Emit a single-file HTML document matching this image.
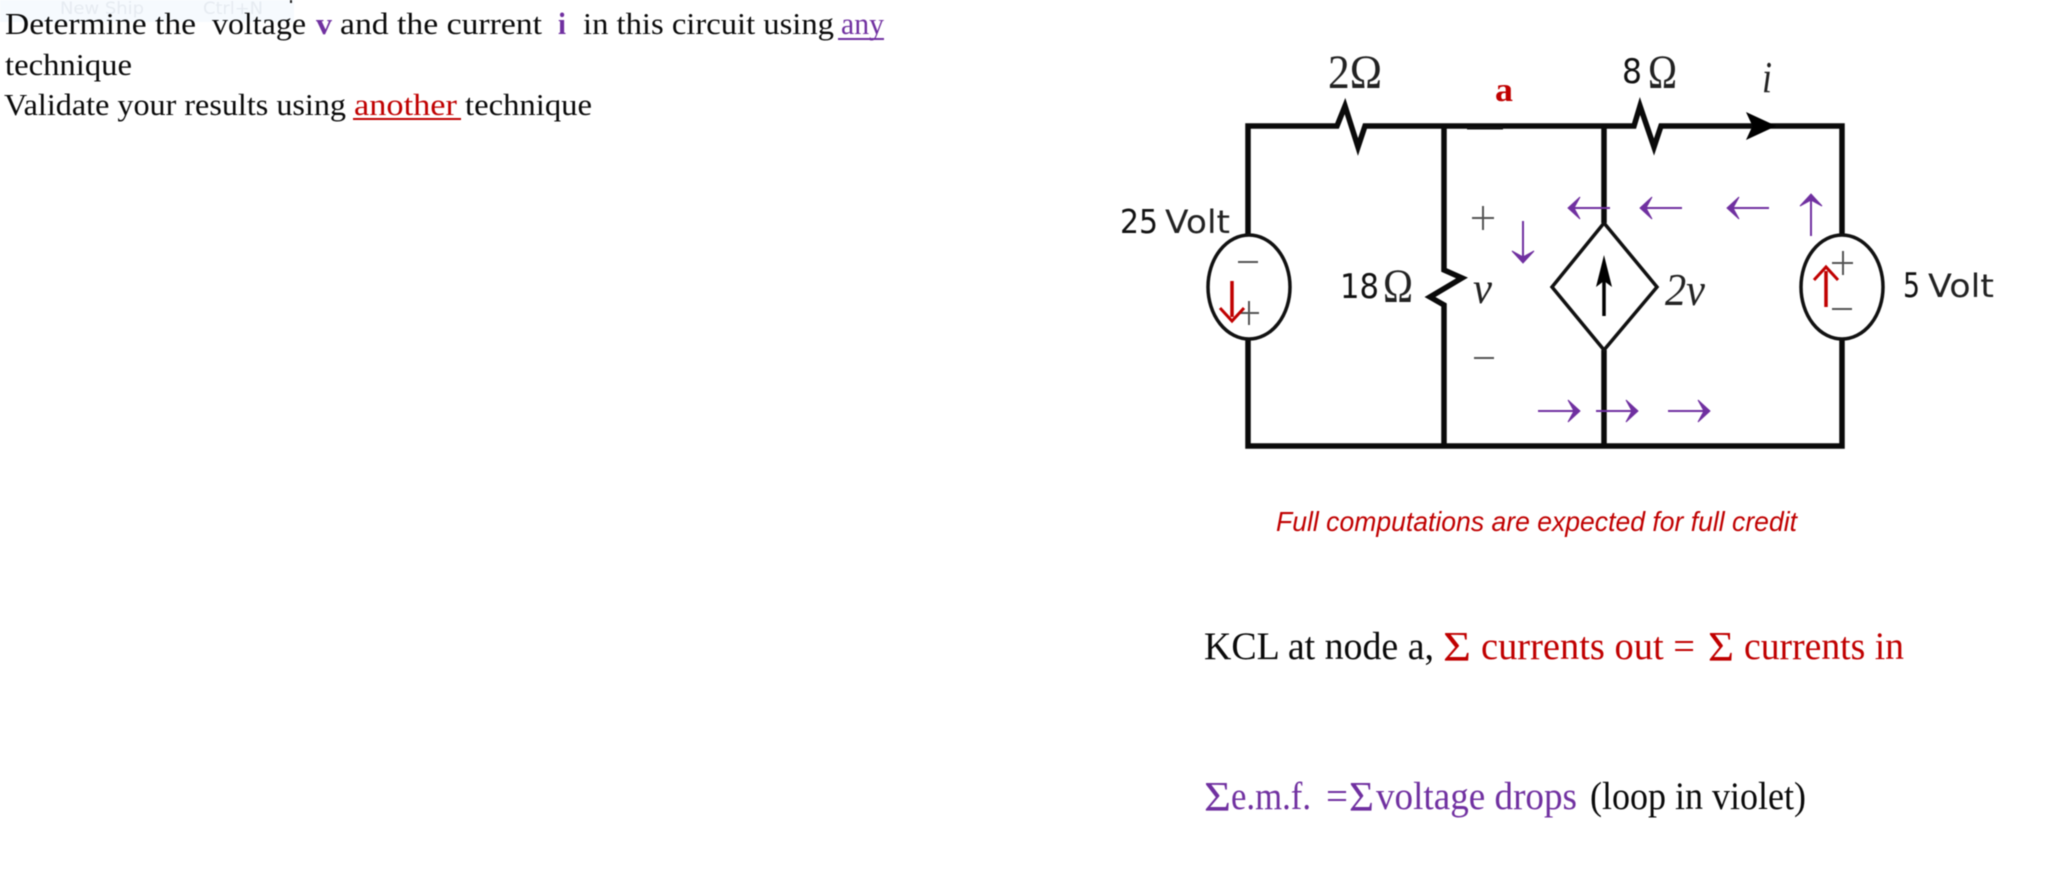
<!DOCTYPE html>
<html><head><meta charset="utf-8"><style>
html,body{margin:0;padding:0;background:#fff;width:2046px;height:875px;overflow:hidden}
svg{display:block;filter:blur(.5px)}
.s{font-family:"Liberation Serif",serif}
.d{font-family:"DejaVu Sans",sans-serif}
.t{font-size:31px;fill:#0a0a0a}
.b{font-size:39px}
.w{fill:none;stroke:#0a0a0a;stroke-width:5.5;stroke-linejoin:miter}
.n{fill:none;stroke:#111;stroke-width:3.5}
.g{stroke:#555;stroke-width:2;fill:none}
</style></head><body>
<svg width="2046" height="875" viewBox="0 0 2046 875" xmlns="http://www.w3.org/2000/svg">
<defs>
<g id="pa"><path d="M-42,0H-5" stroke="#7030a0" stroke-width="2" fill="none"/><path d="M-12,-11L0,0L-12,11L-6,0Z" fill="#7030a0" stroke="#7030a0" stroke-width="1"/></g>
<g id="ra"><path d="M-40,0H-4" stroke="#c00000" stroke-width="3.5" fill="none"/><path d="M-13,-12L0,0L-13,12" fill="none" stroke="#c00000" stroke-width="3"/></g>
</defs>

<!-- ghost top -->
<rect x="0" y="0" width="294" height="22" fill="#f6fafe"/>
<text x="60" y="14" class="d" font-size="17" fill="#e6ebf1" textLength="84" lengthAdjust="spacingAndGlyphs">New Ship</text>
<text x="203" y="14" class="d" font-size="17" fill="#e6ebf1" textLength="60" lengthAdjust="spacingAndGlyphs">Ctrl+N</text>
<rect x="290" y="0" width="2" height="3" fill="#222"/>

<!-- heading text -->
<g class="s t">
<text x="5" y="34" textLength="191" lengthAdjust="spacingAndGlyphs">Determine the</text>
<text x="212" y="34" textLength="94" lengthAdjust="spacingAndGlyphs">voltage</text>
<text x="316" y="34" textLength="16" lengthAdjust="spacingAndGlyphs" font-weight="bold" style="fill:#7030a0">v</text>
<text x="340" y="34" textLength="202" lengthAdjust="spacingAndGlyphs">and the current</text>
<text x="558" y="34" textLength="8" lengthAdjust="spacingAndGlyphs" font-weight="bold" style="fill:#7030a0">i</text>
<text x="583" y="34" textLength="251" lengthAdjust="spacingAndGlyphs">in this circuit using</text>
<text x="841" y="34" textLength="43" lengthAdjust="spacingAndGlyphs" style="fill:#7030a0">any</text>
<text x="5" y="75" textLength="127" lengthAdjust="spacingAndGlyphs">technique</text>
<text x="4" y="115" textLength="342" lengthAdjust="spacingAndGlyphs">Validate your results using</text>
<text x="354" y="115" textLength="103" lengthAdjust="spacingAndGlyphs" style="fill:#c00000">another</text>
<text x="465" y="115" textLength="127" lengthAdjust="spacingAndGlyphs">technique</text>
</g>
<rect x="838" y="38" width="46" height="2" fill="#7030a0"/>
<rect x="353" y="118" width="108" height="2" fill="#c00000"/>

<!-- wires -->
<path class="w" d="M1248,235V126H1337L1345,106L1358,147L1365,126H1634L1640,106L1654,147L1661,126H1842V235"/>
<path class="w" d="M1248,339V446H1842V339"/>
<path class="w" d="M1444,126V270L1462,278L1430,297L1444,305V446"/>
<path class="w" d="M1604,126V223M1604,350V446"/>
<path d="M1467,128H1503" stroke="#111" stroke-width="3"/>
<path d="M1775,126L1747,113L1753,126L1747,139Z" fill="#000" stroke="#000" stroke-width="1"/>

<!-- sources -->
<ellipse class="n" cx="1249" cy="287" rx="41" ry="52" fill="#fff"/>
<ellipse class="n" cx="1842" cy="287" rx="41" ry="52" fill="#fff"/>
<path class="n" d="M1604,223L1657,287L1604,350L1552,287Z"/>
<path d="M1604,316V270" stroke="#000" stroke-width="3.5"/>
<path d="M1604,255L1612,287L1604,281L1596,287Z" fill="#000"/>

<!-- polarity -->
<path class="g" d="M1238,262H1258M1239,313H1259M1249,301V325M1472,218H1494M1483,206V230M1474,358H1494M1832,263H1853M1843,251V275M1832,309H1852"/>

<!-- purple arrows -->
<use href="#pa" transform="translate(1568,208) rotate(180)"/>
<use href="#pa" transform="translate(1640,208) rotate(180)"/>
<use href="#pa" transform="translate(1727,208) rotate(180)"/>
<use href="#pa" transform="translate(1811,194) rotate(-90)"/>
<use href="#pa" transform="translate(1523,263) rotate(90)"/>
<use href="#pa" transform="translate(1580,411)"/>
<use href="#pa" transform="translate(1638,411)"/>
<use href="#pa" transform="translate(1710,411)"/>
<!-- red arrows -->
<use href="#ra" transform="translate(1232,321) rotate(90)"/>
<use href="#ra" transform="translate(1826,267) rotate(-90)"/>

<!-- labels -->
<text class="s" x="1328" y="88" font-size="48" fill="#222" textLength="54" lengthAdjust="spacingAndGlyphs">2Ω</text>
<text class="s" x="1495" y="101" font-size="34" font-weight="bold" fill="#c00000" textLength="18" lengthAdjust="spacingAndGlyphs">a</text>
<text class="d" x="1622" y="83" font-size="34" fill="#111" textLength="20" lengthAdjust="spacingAndGlyphs">8</text>
<text class="s" x="1648" y="88" font-size="48" fill="#222" textLength="29" lengthAdjust="spacingAndGlyphs">Ω</text>
<text class="s" x="1762" y="92" font-size="44" font-style="italic" fill="#222" textLength="10" lengthAdjust="spacingAndGlyphs">i</text>
<text class="d" x="1120" y="233" font-size="33" fill="#111" textLength="38" lengthAdjust="spacingAndGlyphs">25</text>
<text class="d" x="1165" y="233" font-size="32" fill="#222" textLength="65" lengthAdjust="spacingAndGlyphs">Volt</text>
<text class="d" x="1340" y="298" font-size="34" fill="#111" textLength="39" lengthAdjust="spacingAndGlyphs">18</text>
<text class="s" x="1383" y="302" font-size="48" fill="#222" textLength="30" lengthAdjust="spacingAndGlyphs">Ω</text>
<text class="s" x="1473" y="303" font-size="44" font-style="italic" fill="#222" textLength="19" lengthAdjust="spacingAndGlyphs">v</text>
<text class="s" x="1665" y="305" font-size="46" font-style="italic" fill="#222" textLength="40" lengthAdjust="spacingAndGlyphs">2v</text>
<text class="d" x="1903" y="297" font-size="34" fill="#111" textLength="17" lengthAdjust="spacingAndGlyphs">5</text>
<text class="d" x="1928" y="297" font-size="32" fill="#222" textLength="66" lengthAdjust="spacingAndGlyphs">Volt</text>

<!-- lower notes -->
<text x="1276" y="531" font-family="Liberation Sans,sans-serif" font-style="italic" font-size="28" fill="#c00000" textLength="521" lengthAdjust="spacingAndGlyphs">Full computations are expected for full credit</text>

<g class="s b">
<text x="1204" y="659" fill="#0a0a0a" textLength="230" lengthAdjust="spacingAndGlyphs">KCL at node a,</text>
<text x="1443" y="661" fill="#c00000" font-size="42" textLength="28" lengthAdjust="spacingAndGlyphs">Σ</text>
<text x="1481" y="659" fill="#c00000" textLength="214" lengthAdjust="spacingAndGlyphs">currents out =</text>
<text x="1708" y="661" fill="#c00000" font-size="42" textLength="26" lengthAdjust="spacingAndGlyphs">Σ</text>
<text x="1744" y="659" fill="#c00000" textLength="160" lengthAdjust="spacingAndGlyphs">currents in</text>
<text x="1204" y="811" fill="#7030a0" font-size="42" textLength="27" lengthAdjust="spacingAndGlyphs">Σ</text>
<text x="1231" y="809" fill="#7030a0" textLength="80" lengthAdjust="spacingAndGlyphs">e.m.f.</text>
<text x="1326" y="809" fill="#7030a0" textLength="22" lengthAdjust="spacingAndGlyphs">=</text>
<text x="1349" y="811" fill="#7030a0" font-size="42" textLength="25" lengthAdjust="spacingAndGlyphs">Σ</text>
<text x="1376" y="809" fill="#7030a0" textLength="201" lengthAdjust="spacingAndGlyphs">voltage drops</text>
<text x="1590" y="809" fill="#0a0a0a" textLength="216" lengthAdjust="spacingAndGlyphs">(loop in violet)</text>
</g>
</svg>
</body></html>
